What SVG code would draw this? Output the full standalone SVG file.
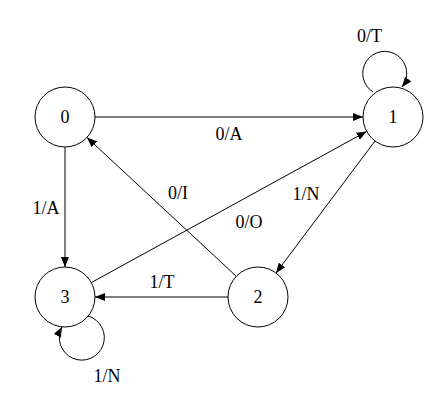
<svg xmlns="http://www.w3.org/2000/svg" width="448" height="408" viewBox="0 0 448 408">
<style>
.n{fill:#fff;stroke:#000;stroke-width:1}
.e{fill:none;stroke:#000;stroke-width:1;marker-end:url(#ah)}
text{font-family:"Liberation Serif","Times New Roman",serif;font-size:18px;fill:#000;text-anchor:middle}
</style>
<defs>
<marker id="ah" markerWidth="10" markerHeight="8" refX="10" refY="4" orient="auto" markerUnits="userSpaceOnUse">
<path d="M0,0 L10,4 L0,8 Z" fill="#000"/>
</marker>
</defs>
<rect width="448" height="408" fill="#fff"/>
<g id="connectors">
<path class="e" d="M95,117 L363,117"/>
<path class="e" d="M65,147 L65,267"/>
<path class="e" d="M228,297 L95,297"/>
<path class="e" d="M236,276 L87,137.5"/>
<path class="e" d="M91.3,282.6 L366.7,131.4"/>
<path class="e" d="M375,141 L276,273"/>
<path class="e" d="M373,92 A22,22 0 1 1 402,87"/>
<path class="e" d="M88,316 A22.5,22.5 0 1 1 62,327"/>
<text x="229" y="140">0/A</text>
<text x="46" y="214">1/A</text>
<text x="178" y="199">0/I</text>
<text x="249" y="228">0/O</text>
<text x="306" y="200">1/N</text>
<text x="162" y="288">1/T</text>
<text x="369.5" y="41.5">0/T</text>
<text x="107" y="381.5">1/N</text>
</g>
<g id="node0"><circle class="n" cx="65" cy="117" r="30"/><text x="65" y="123">0</text></g>
<g id="node1"><circle class="n" cx="393" cy="117" r="30"/><text x="393" y="123">1</text></g>
<g id="node2"><circle class="n" cx="258" cy="297" r="30"/><text x="258" y="303">2</text></g>
<g id="node3"><circle class="n" cx="65" cy="297" r="30"/><text x="65" y="303">3</text></g>
</svg>
